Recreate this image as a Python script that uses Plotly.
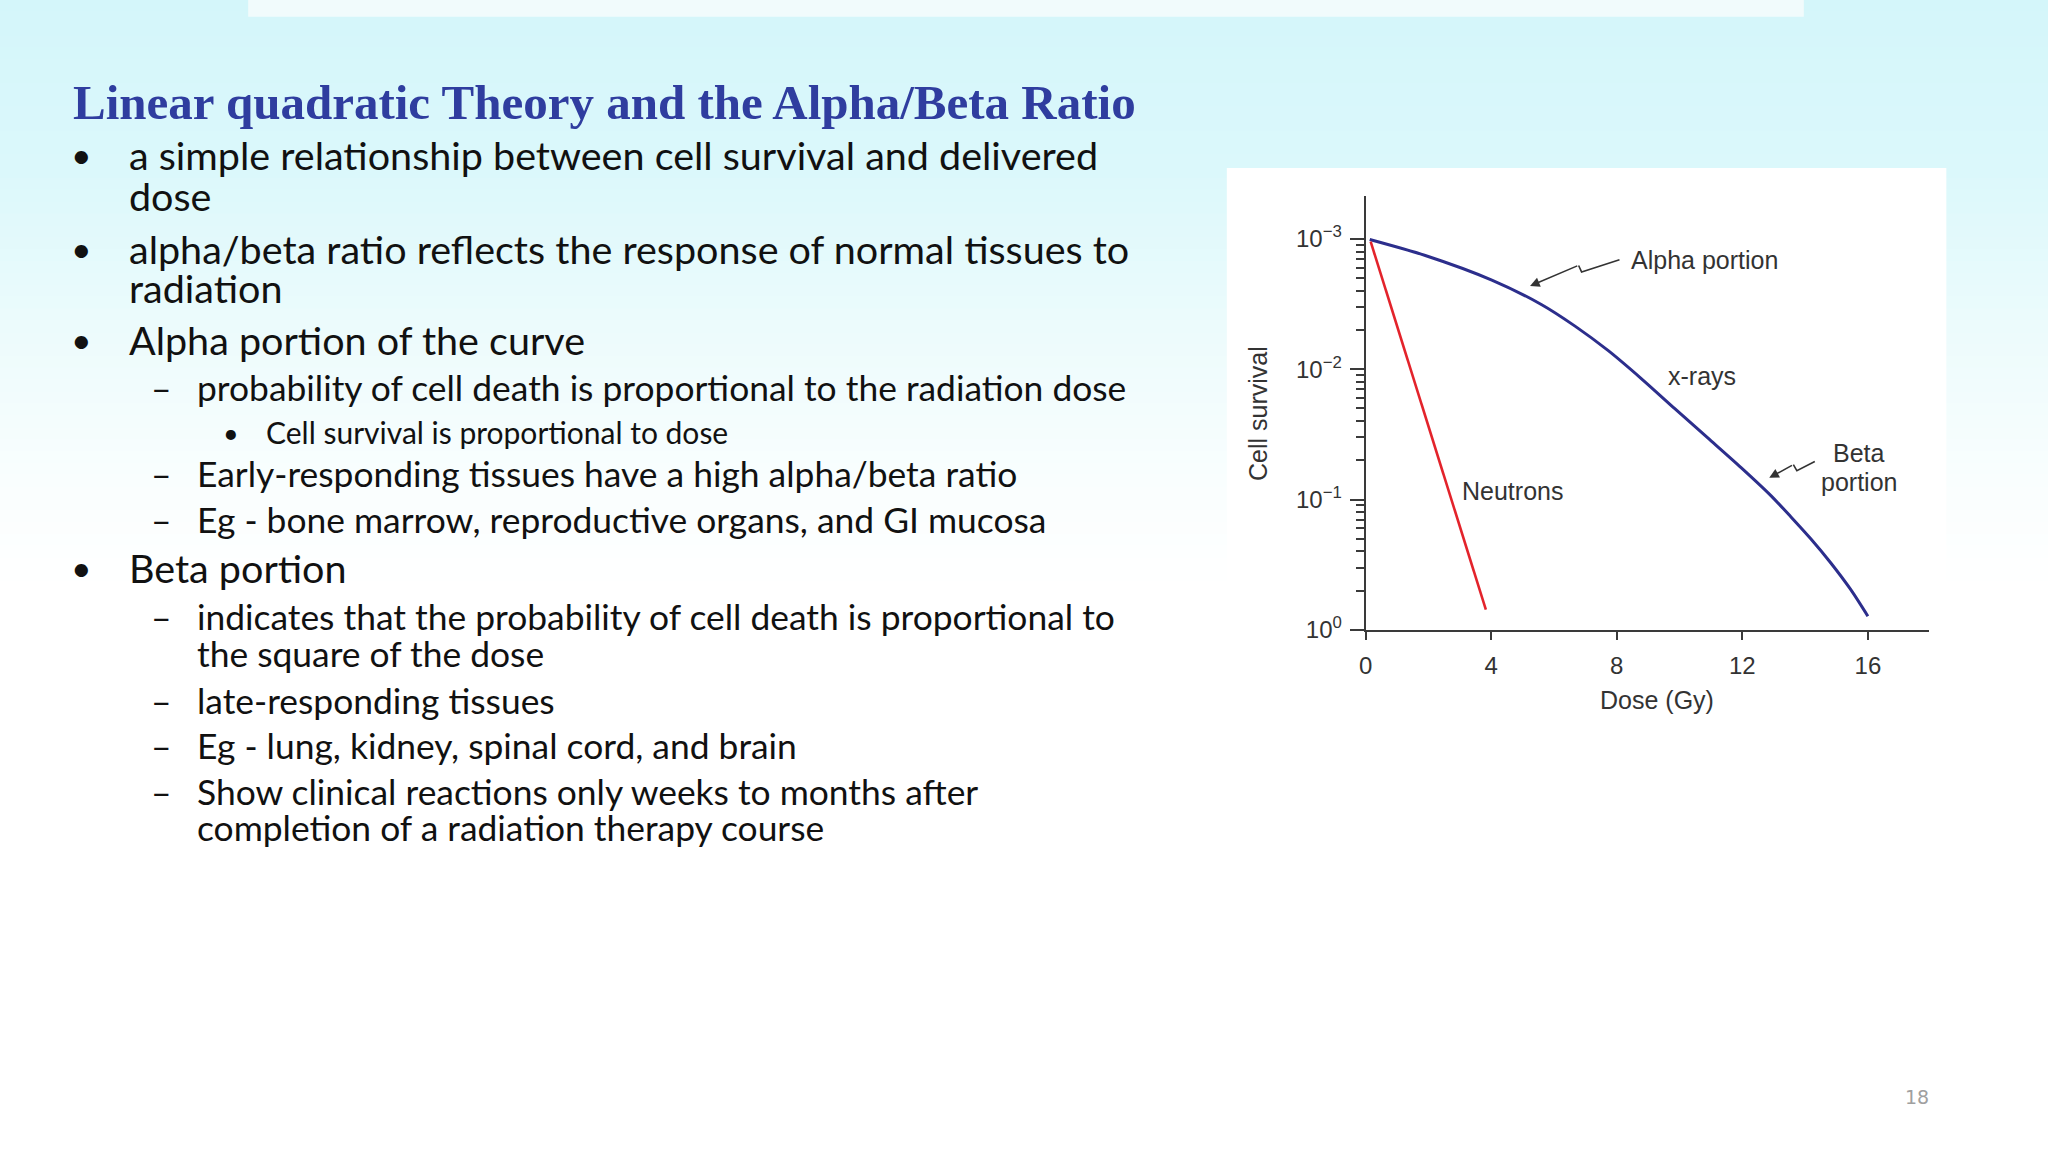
import plotly.graph_objects as go

W, H = 2048, 1152

# cell survival curves (y labels as printed on the slide)
xray_dose = [0.13, 1.9, 4.02, 5.61, 6.67, 7.73, 8.78, 9.84, 10.9, 11.96, 12.91, 13.55, 14.18,
             14.82, 15.45, 16.0]
xray_surv = [0.00101, 0.00134, 0.00207, 0.0032, 0.00467, 0.00721, 0.0118, 0.0200, 0.0337,
             0.0569, 0.0933, 0.136, 0.200, 0.307, 0.490, 0.787]
neutron_dose = [0.16, 2.01, 3.83]
neutron_surv = [0.00105, 0.0283, 0.70]

dose_ticks = [0, 4, 8, 12, 16]
surv_ticks = [0.001, 0.01, 0.1, 1]
surv_labels = ['10<sup>−3</sup>', '10<sup>−2</sup>', '10<sup>−1</sup>', '10<sup>0</sup>']

title_text = 'Linear quadratic Theory and the Alpha/Beta Ratio'
# (level, text); negative level = wrapped continuation line, no bullet
slide_lines = [
    (1, 'a simple relationship between cell survival and delivered'),
    (-1, 'dose'),
    (1, 'alpha/beta ratio reflects the response of normal tissues to'),
    (-1, 'radiation'),
    (1, 'Alpha portion of the curve'),
    (2, 'probability of cell death is proportional to the radiation dose'),
    (3, 'Cell survival is proportional to dose'),
    (2, 'Early-responding tissues have a high alpha/beta ratio'),
    (2, 'Eg - bone marrow, reproductive organs, and GI mucosa'),
    (1, 'Beta portion'),
    (2, 'indicates that the probability of cell death is proportional to'),
    (-2, 'the square of the dose'),
    (2, 'late-responding tissues'),
    (2, 'Eg - lung, kidney, spinal cord, and brain'),
    (2, 'Show clinical reactions only weeks to months after'),
    (-2, 'completion of a radiation therapy course'),
]
line_y = [156, 198, 251, 291, 343, 392, 437, 479, 525, 574, 624, 661, 708, 754, 801, 837]


def px(x):
    return x / W


def py(y):
    return 1 - y / H


CHART_FONT = 'Liberation Sans'
INK = '#333333'

fig = go.Figure()
fig.add_trace(go.Scatter(x=xray_dose, y=xray_surv, mode='lines', name='x-rays',
                         line=dict(color='#2c2e8c', width=3, shape='spline', smoothing=0.8),
                         hoverinfo='skip'))
fig.add_trace(go.Scatter(x=neutron_dose, y=neutron_surv, mode='lines', name='Neutrons',
                         line=dict(color='#e3232b', width=2.6), hoverinfo='skip'))

shapes = []
# slide background: cyan wash fading to white
stops = [(0, (212, 246, 250)), (170, (219, 248, 251)), (330, (236, 251, 252)),
         (480, (249, 254, 254)), (600, (255, 255, 255))]
band = 12
for y0 in range(0, 600, band):
    yc = y0 + band / 2
    for (a, ca), (b, cb) in zip(stops[:-1], stops[1:]):
        if a <= yc <= b:
            t = (yc - a) / (b - a)
            c = tuple(round(ca[i] + (cb[i] - ca[i]) * t) for i in range(3))
            break
    shapes.append(dict(type='rect', xref='paper', yref='paper', x0=-0.01, x1=1.01,
                       y0=py(y0 + band + 1), y1=py(y0), fillcolor='rgb(%d,%d,%d)' % c,
                       line=dict(width=0), layer='below'))
shapes.append(dict(type='rect', xref='paper', yref='paper', x0=px(242), x1=px(1803),
                   y0=py(17), y1=1, fillcolor='#f1fbfc', line=dict(width=0), layer='below'))
# white figure panel
shapes.append(dict(type='rect', xref='paper', yref='paper', x0=px(1224), x1=px(1946),
                   y0=py(770), y1=py(170), fillcolor='white', line=dict(width=0), layer='below'))


def zigzag(pts):
    d = 'M ' + ' L '.join('%.5f,%.5f' % (px(x), py(y)) for x, y in pts)
    return dict(type='path', xref='paper', yref='paper', path=d,
                line=dict(color=INK, width=1.6))


shapes.append(zigzag([(1618, 262.7), (1580, 275), (1577, 268.5)]))
shapes.append(zigzag([(1814, 466.7), (1796, 476), (1792.5, 470)]))

annotations = []


def label(text, x, y, size=25, xanchor='center', **kw):
    annotations.append(dict(text=text, x=px(x), y=py(y), xref='paper', yref='paper',
                            xanchor=xanchor, yanchor='middle', showarrow=False,
                            font=dict(family=CHART_FONT, size=size, color=INK), **kw))


label('Alpha portion', 1628, 263, xanchor='left')
label('x-rays', 1701, 380)
label('Neutrons', 1511, 497)
label('Beta', 1858, 458)
label('portion', 1858, 488)
label('Dose (Gy)', 1656, 708)
label('Cell survival', 1256, 418, textangle=-90)

# arrow heads of the two pointers
for tip, tail in [((1528.3, 289.3), (1577, 268.5)), ((1768.3, 483.3), (1792.5, 470))]:
    annotations.append(dict(x=px(tip[0]), y=py(tip[1]), xref='paper', yref='paper', text='',
                            showarrow=True, ax=tail[0] - tip[0], ay=tail[1] - tip[1],
                            arrowhead=2, arrowsize=1.2, arrowwidth=1.6, arrowcolor=INK))

# slide text
annotations.append(dict(text='<b>%s</b>' % title_text, x=px(64), y=py(104), xref='paper',
                        yref='paper', xanchor='left', yanchor='middle', showarrow=False,
                        font=dict(family='Liberation Serif', size=49, color='#2f3d9f')))
BODY = 'Lato'
indent = {1: (62, 120, '•', 39.5), 2: (142.5, 189, '–', 35.4), 3: (215, 257.5, '•', 30)}
for (lvl, text), y in zip(slide_lines, line_y):
    mx, tx, mark, size = indent[abs(lvl)]
    if lvl > 0:
        msize = size if mark == '–' else size * 0.9
        annotations.append(dict(text=mark, x=px(mx), y=py(y), xref='paper', yref='paper',
                                xanchor='left', yanchor='middle', showarrow=False,
                                font=dict(family=BODY, size=msize, color='#111111')))
    annotations.append(dict(text=text, x=px(tx), y=py(y), xref='paper', yref='paper',
                            xanchor='left', yanchor='middle', showarrow=False,
                            font=dict(family=BODY, size=size, color='#111111')))
annotations.append(dict(text='18', x=px(1917), y=py(1110), xref='paper', yref='paper',
                        xanchor='center', yanchor='middle', showarrow=False,
                        font=dict(family='DejaVu Sans', size=19, color='#a0a0a0')))

axis_font = dict(family=CHART_FONT, size=24, color=INK)
fig.update_layout(
    width=W, height=H, margin=dict(l=0, r=0, t=0, b=0),
    paper_bgcolor='white', plot_bgcolor='rgba(0,0,0,0)',
    showlegend=False, shapes=shapes, annotations=annotations,
    xaxis=dict(domain=[px(1363.3), px(1929)], range=[0, 17.96], showgrid=False, zeroline=False,
               showline=True, linecolor='#3a3a3a', linewidth=2,
               tickmode='array', tickvals=dose_ticks, ticks='outside', ticklen=8,
               tickwidth=2, tickcolor='#3a3a3a', ticklabelstandoff=5, tickfont=axis_font),
    yaxis=dict(domain=[py(637), py(198)], type='log', range=[0, -3.331], showgrid=False,
               zeroline=False, showline=True, linecolor='#3a3a3a', linewidth=2,
               tickmode='array', tickvals=surv_ticks, ticktext=surv_labels,
               ticks='outside', ticklen=14, tickwidth=2, tickcolor='#3a3a3a',
               ticklabelstandoff=3, tickfont=dict(family=CHART_FONT, size=24, color=INK),
               minor=dict(tickmode='array',
                          tickvals=[10 ** (e + 1) / k for e in (-3, -2, -1) for k in range(2, 10)],
                          ticks='outside', ticklen=8, tickwidth=1.6, tickcolor='#3a3a3a')),
)

fig.write_html('out.html', config={'displayModeBar': False},
               post_script="document.body.style.margin='0';document.body.style.overflow='hidden';")
